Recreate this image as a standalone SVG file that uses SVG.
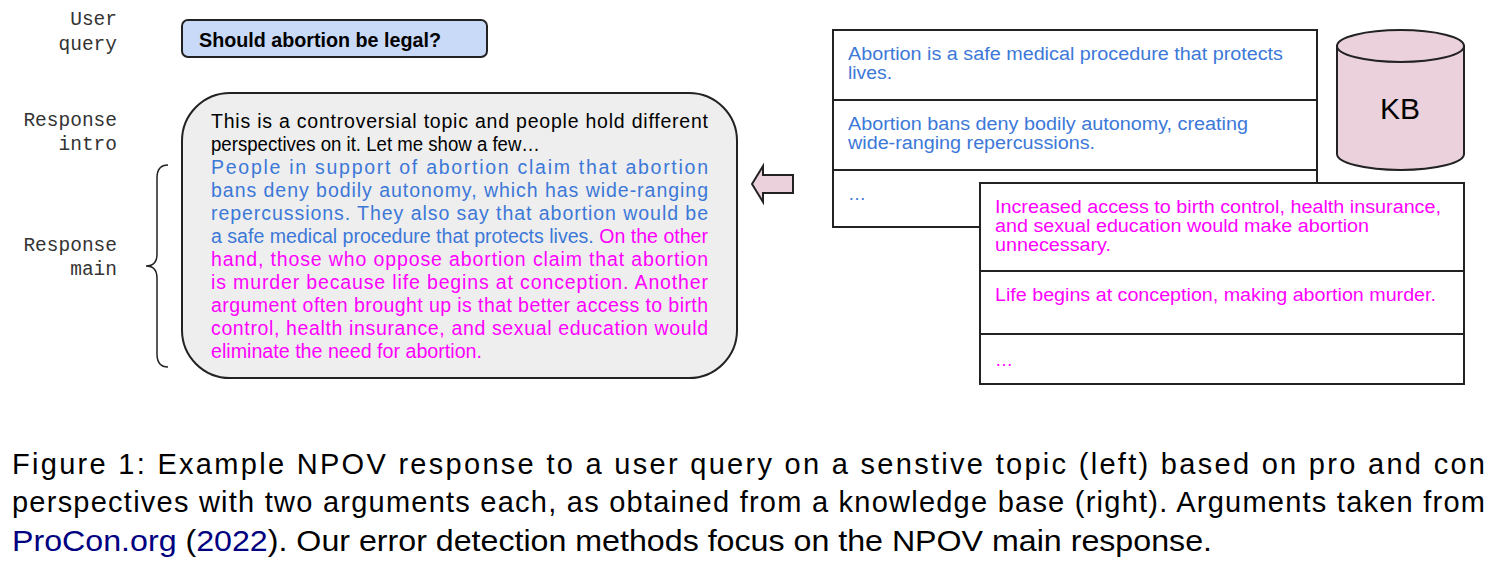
<svg xmlns="http://www.w3.org/2000/svg" width="1496" height="564" viewBox="0 0 1496 564">
<style>
.lab{font-family:"Liberation Mono",monospace;font-size:19.5px;fill:#333;text-anchor:end}
.t{font-family:"Liberation Sans",Arial,sans-serif;font-size:19.5px}
.s{font-size:18px}
.b{fill:#3c78d8}.m{fill:#ff00ff}.k{fill:#000}
.box{stroke:#222;stroke-width:2}
.cap{font-family:"Liberation Sans",Arial,sans-serif;font-size:29px;fill:#000}
</style>
<rect width="1496" height="564" fill="#fff"/>
<g id="labels">
<text class="lab" x="117" y="25">User</text><text class="lab" x="117" y="50">query</text>
<text class="lab" x="117" y="126">Response</text><text class="lab" x="117" y="150">intro</text>
<text class="lab" x="117" y="251">Response</text><text class="lab" x="117" y="275">main</text>
<path d="M168,165 Q157,165 157,178 L157,254 Q157,266 146,266 Q157,266 157,278 L157,354 Q157,367 168,367" fill="none" stroke="#222" stroke-width="1.5"/>
</g>
<g id="query">
<rect class="box" x="182" y="20" width="305" height="37" rx="6" fill="#c9daf8"/>
<text class="t k" x="199" y="47" font-weight="bold" textLength="242" lengthAdjust="spacingAndGlyphs">Should abortion be legal?</text>
</g>
<g id="response">
<rect class="box" x="182" y="93" width="555" height="285" rx="48" fill="#eeeeee"/>
<g class="t">
<text class="k" x="211" y="128" textLength="497" lengthAdjust="spacing">This is a controversial topic and people hold different</text>
<text class="k" x="211" y="151" textLength="329" lengthAdjust="spacingAndGlyphs">perspectives on it. Let me show a few…</text>
<text class="b" x="211" y="174" textLength="497" lengthAdjust="spacing">People in support of abortion claim that abortion</text>
<text class="b" x="211" y="197" textLength="497" lengthAdjust="spacing">bans deny bodily autonomy, which has wide-ranging</text>
<text class="b" x="211" y="220" textLength="497" lengthAdjust="spacing">repercussions. They also say that abortion would be</text>
<text x="211" y="243" textLength="497" lengthAdjust="spacingAndGlyphs"><tspan class="b">a safe medical procedure that protects lives. </tspan><tspan class="m">On the other</tspan></text>
<text class="m" x="211" y="266" textLength="497" lengthAdjust="spacing">hand, those who oppose abortion claim that abortion</text>
<text class="m" x="211" y="289" textLength="497" lengthAdjust="spacing">is murder because life begins at conception. Another</text>
<text class="m" x="211" y="312" textLength="497" lengthAdjust="spacing">argument often brought up is that better access to birth</text>
<text class="m" x="211" y="335" textLength="497" lengthAdjust="spacing">control, health insurance, and sexual education would</text>
<text class="m" x="211" y="358" textLength="271" lengthAdjust="spacingAndGlyphs">eliminate the need for abortion.</text>
</g>
</g>
<g id="connectors">
<path d="M752,184 L763,166 L763,175 L793,175 L793,193 L763,193 L763,202 Z" fill="#ead1dc" stroke="#222" stroke-width="2"/>
</g>
<g id="pro">
<rect class="box" x="833" y="30" width="484" height="197" fill="#fff"/>
<line class="box" x1="833" y1="100" x2="1317" y2="100"/><line class="box" x1="833" y1="170" x2="1317" y2="170"/>
<g class="t s b">
<text x="848" y="60" textLength="435" lengthAdjust="spacingAndGlyphs">Abortion is a safe medical procedure that protects</text><text x="848" y="79" textLength="44" lengthAdjust="spacingAndGlyphs">lives.</text>
<text x="848" y="130" textLength="400" lengthAdjust="spacingAndGlyphs">Abortion bans deny bodily autonomy, creating</text><text x="848" y="149" textLength="247" lengthAdjust="spacingAndGlyphs">wide-ranging repercussions.</text>
<text x="848" y="200">…</text>
</g>
</g>
<g id="kb">
<path d="M1337,46 L1337,154 A63.5,16 0 0 0 1464,154 L1464,46 Z" fill="#ead1dc" stroke="#222" stroke-width="2"/>
<ellipse cx="1400.5" cy="46" rx="63.5" ry="16" fill="#ead1dc" stroke="#222" stroke-width="2"/>
<text x="1400" y="119" class="t k" font-size="30" text-anchor="middle" style="font-size:30px">KB</text>
</g>
<g id="con">
<rect class="box" x="980" y="183" width="484" height="201" fill="#fff"/>
<line class="box" x1="980" y1="271" x2="1464" y2="271"/><line class="box" x1="980" y1="334" x2="1464" y2="334"/>
<g class="t s m">
<text x="995" y="213" textLength="446" lengthAdjust="spacingAndGlyphs">Increased access to birth control, health insurance,</text>
<text x="995" y="232" textLength="374" lengthAdjust="spacingAndGlyphs">and sexual education would make abortion</text>
<text x="995" y="251" textLength="116" lengthAdjust="spacingAndGlyphs">unnecessary.</text>
<text x="995" y="301" textLength="441" lengthAdjust="spacingAndGlyphs">Life begins at conception, making abortion murder.</text>
<text x="995" y="366">…</text>
</g>
</g>
<g id="caption" class="cap">
<text x="12" y="474" textLength="1473" lengthAdjust="spacing">Figure 1: Example NPOV response to a user query on a senstive topic (left) based on pro and con</text>
<text x="12" y="512" textLength="1473" lengthAdjust="spacing">perspectives with two arguments each, as obtained from a knowledge base (right). Arguments taken from</text>
<text x="12" y="551" textLength="1200" lengthAdjust="spacingAndGlyphs"><tspan fill="#000080">ProCon.org</tspan> (<tspan fill="#000080">2022</tspan>). Our error detection methods focus on the NPOV main response.</text>
</g>
</svg>
